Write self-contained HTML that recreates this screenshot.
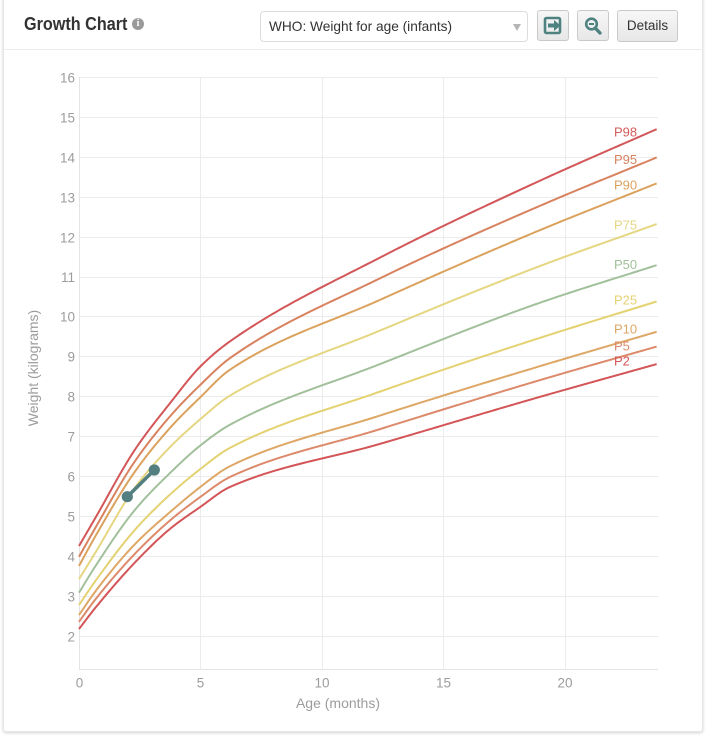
<!DOCTYPE html>
<html><head><meta charset="utf-8">
<style>
html,body{margin:0;padding:0;background:#fff;}
body{width:706px;height:737px;position:relative;overflow:hidden;font-family:"Liberation Sans",Arial,sans-serif;}
.card{position:absolute;left:3px;top:-3px;width:698px;height:733px;background:#fff;border:1px solid #e6e6e6;border-radius:3px;box-shadow:0 1px 3px rgba(0,0,0,0.18);}
.sep{position:absolute;left:4px;top:49px;width:697px;height:1px;background:#ececec;}
.title{position:absolute;left:24px;top:13px;font-size:18.5px;font-weight:bold;color:#333;transform:scaleX(0.875);transform-origin:0 0;white-space:nowrap;}
.info{position:absolute;left:132px;top:18px;width:12px;height:12px;border-radius:50%;background:#9a9a9a;color:#fff;font-size:10px;font-weight:bold;line-height:12px;text-align:center;font-family:"Liberation Serif",serif;}
.sel{position:absolute;left:260px;top:11px;width:266px;height:29px;border:1px solid #dcdcdc;border-radius:4px;background:#fff;}
.sel span{position:absolute;left:8px;top:7px;font-size:13.7px;color:#333;}
.sel i{position:absolute;left:252px;top:12px;width:0;height:0;border-left:4px solid transparent;border-right:4px solid transparent;border-top:7px solid #b5b5b5;}
.btn{position:absolute;top:10px;height:29px;border:1px solid #c9c9c9;border-radius:3px;background:linear-gradient(#f7f7f7,#e7e7e7);}
.b1{left:537px;width:30px;}
.b2{left:577px;width:30px;}
.b3{left:617px;width:59px;height:30px;font-size:13.5px;color:#333;text-align:center;line-height:30px;}
</style></head>
<body>
<div class="card"></div>
<div class="sep"></div>
<div class="title">Growth Chart</div>
<div class="info">i</div>
<div class="sel"><span>WHO: Weight for age (infants)</span><i></i></div>
<div class="btn b1"><svg width="30" height="29" viewBox="0 0 30 29"><rect x="7" y="7" width="15" height="15" rx="1.5" fill="none" stroke="#4e8280" stroke-width="2.6"/><rect x="16" y="10" width="4" height="9" fill="#f0f0f0"/><path d="M10 12.5 H16 V9 L22.5 14.5 L16 20 V16.5 H10 Z" fill="#4e8280"/></svg></div>
<div class="btn b2"><svg width="30" height="29" viewBox="0 0 30 29"><circle cx="13.5" cy="13" r="5.3" fill="none" stroke="#4e8280" stroke-width="2.6"/><line x1="17.2" y1="17" x2="22" y2="22" stroke="#4e8280" stroke-width="3.4" stroke-linecap="round"/><line x1="11" y1="13" x2="16" y2="13" stroke="#4e8280" stroke-width="2"/></svg></div>
<div class="btn b3">Details</div>

<svg id="chart" width="706" height="737" style="position:absolute;left:0;top:0" xmlns="http://www.w3.org/2000/svg" font-family="Liberation Sans, Arial, sans-serif">
<g stroke="#ececec" stroke-width="1" shape-rendering="crispEdges">
<line x1="79" y1="77.5" x2="658" y2="77.5"/>
<line x1="79" y1="117.5" x2="658" y2="117.5"/>
<line x1="79" y1="157.5" x2="658" y2="157.5"/>
<line x1="79" y1="197.5" x2="658" y2="197.5"/>
<line x1="79" y1="237.5" x2="658" y2="237.5"/>
<line x1="79" y1="277.5" x2="658" y2="277.5"/>
<line x1="79" y1="316.5" x2="658" y2="316.5"/>
<line x1="79" y1="356.5" x2="658" y2="356.5"/>
<line x1="79" y1="396.5" x2="658" y2="396.5"/>
<line x1="79" y1="436.5" x2="658" y2="436.5"/>
<line x1="79" y1="476.5" x2="658" y2="476.5"/>
<line x1="79" y1="516.5" x2="658" y2="516.5"/>
<line x1="79" y1="556.5" x2="658" y2="556.5"/>
<line x1="79" y1="596.5" x2="658" y2="596.5"/>
<line x1="79" y1="636.5" x2="658" y2="636.5"/>
<line x1="79" y1="669.5" x2="658" y2="669.5" stroke="#e4e4e4"/>
<line x1="79.5" y1="77" x2="79.5" y2="670" stroke="#e4e4e4"/>
<line x1="200.5" y1="77" x2="200.5" y2="670"/>
<line x1="322.5" y1="77" x2="322.5" y2="670"/>
<line x1="443.5" y1="77" x2="443.5" y2="670"/>
<line x1="565.5" y1="77" x2="565.5" y2="670"/>
</g>
<g fill="#9c9c9c" font-size="13.5" text-anchor="end">
<text x="75" y="82.5">16</text>
<text x="75" y="122.5">15</text>
<text x="75" y="162.5">14</text>
<text x="75" y="202.5">13</text>
<text x="75" y="242.5">12</text>
<text x="75" y="282">11</text>
<text x="75" y="321.5">10</text>
<text x="75" y="361.5">9</text>
<text x="75" y="401.5">8</text>
<text x="75" y="441.5">7</text>
<text x="75" y="481.5">6</text>
<text x="75" y="521.5">5</text>
<text x="75" y="561.5">4</text>
<text x="75" y="601.5">3</text>
<text x="75" y="641.5">2</text>
</g>
<g fill="#9c9c9c" font-size="13.5" text-anchor="middle">
<text x="79.5" y="687.5">0</text>
<text x="200.5" y="687.5">5</text>
<text x="322" y="687.5">10</text>
<text x="443.5" y="687.5">15</text>
<text x="565" y="687.5">20</text>
<text x="338" y="708" font-size="14">Age (months)</text>
<text x="0" y="0" font-size="14" transform="translate(38,368) rotate(-90)">Weight (kilograms)</text>
</g>
<g id="curves" fill="none" stroke-width="2" stroke-linejoin="round"></g>
<g font-size="13">
<text x="614" y="136.7" fill="#d35b5a">P98</text>
<text x="614" y="164" fill="#d8825f">P95</text>
<text x="614" y="189.7" fill="#dba25e">P90</text>
<text x="614" y="229.7" fill="#e5d682">P75</text>
<text x="614" y="269" fill="#a2c09b">P50</text>
<text x="614" y="304.7" fill="#e4d272">P25</text>
<text x="614" y="333.7" fill="#dea766">P10</text>
<text x="614" y="350.7" fill="#dc8a6b">P5</text>
<text x="614" y="365.4" fill="#d35558">P2</text>
</g>
<g>
<line x1="127.3" y1="496.7" x2="154.3" y2="470" stroke="#537f80" stroke-width="3.5"/>
<circle cx="127.3" cy="496.7" r="5.6" fill="#537f80"/>
<circle cx="154.3" cy="470" r="5.6" fill="#537f80"/>
</g>
</svg>
<script>
(function(){
var ages=[0,0.66,2.31,3.75,5.0,6.22,12.4,19,23.8];
var S=[
["#d35658",[4.25,4.94,6.67,7.83,8.75,9.38,11.48,13.41,14.70]],
["#d8825f",[3.98,4.69,6.38,7.50,8.29,8.96,10.96,12.78,13.99]],
["#dba25e",[3.75,4.48,6.12,7.21,7.98,8.67,10.42,12.17,13.34]],
["#e5d682",[3.42,4.07,5.72,6.73,7.43,8.02,9.65,11.27,12.32]],
["#a2c09b",[3.08,3.73,5.16,6.08,6.77,7.29,8.81,10.35,11.29]],
["#e4d272",[2.77,3.36,4.66,5.54,6.18,6.71,8.12,9.47,10.38]],
["#dea766",[2.52,3.10,4.30,5.10,5.73,6.25,7.52,8.76,9.62]],
["#dc8a6b",[2.35,2.90,4.06,4.89,5.48,5.98,7.18,8.41,9.25]],
["#d35558",[2.17,2.69,3.84,4.68,5.23,5.73,6.81,7.99,8.81]]
];
function X(a){return 79+a*24.27;}
function Y(v){return 715.54-39.89*v;}
function mono(xs,ys){
 var n=xs.length,d=[],m=[];
 for(var i=0;i<n-1;i++)d.push((ys[i+1]-ys[i])/(xs[i+1]-xs[i]));
 m[0]=d[0];m[n-1]=d[n-2];
 for(i=1;i<n-1;i++){ if(d[i-1]*d[i]<=0)m[i]=0; else { var w1=2*(xs[i+1]-xs[i])+(xs[i]-xs[i-1]), w2=(xs[i+1]-xs[i])+2*(xs[i]-xs[i-1]); m[i]=(w1+w2)/(w1/d[i-1]+w2/d[i]); } }
 return function(x){
  var k=0; while(k<n-2&&x>xs[k+1])k++;
  var h=xs[k+1]-xs[k],t=(x-xs[k])/h,t2=t*t,t3=t2*t;
  return (2*t3-3*t2+1)*ys[k]+(t3-2*t2+t)*h*m[k]+(-2*t3+3*t2)*ys[k+1]+(t3-t2)*h*m[k+1];
 };
}
var g=document.getElementById('curves'),ns='http://www.w3.org/2000/svg';
S.forEach(function(s){
 var f=mono(ages,s[1]),pts=[];
 for(var a=0;a<=23.8001;a+=0.1){pts.push(X(a).toFixed(2)+','+Y(f(Math.min(a,23.8))).toFixed(2));}
 var p=document.createElementNS(ns,'polyline');
 p.setAttribute('points',pts.join(' '));
 p.setAttribute('stroke',s[0]);
 g.appendChild(p);
});
})();
</script>
</body></html>
